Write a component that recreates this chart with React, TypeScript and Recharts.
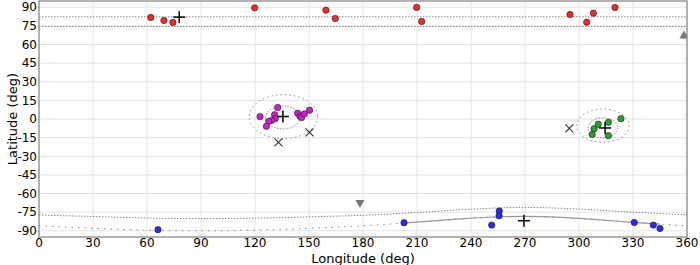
import React from 'react';
import {
  ComposedChart, Scatter, Line, XAxis, YAxis, CartesianGrid, ReferenceArea, ReferenceLine,
} from 'recharts';

// site positions (longitude, latitude in degrees)
const redSites = [
  { lon: 62.1, lat: 81.7 }, { lon: 69.4, lat: 79.3 }, { lon: 74.4, lat: 77.7 },
  { lon: 119.8, lat: 89.5 }, { lon: 159.4, lat: 87.6 }, { lon: 164.6, lat: 80.9 },
  { lon: 209.8, lat: 89.8 }, { lon: 212.6, lat: 78.5 }, { lon: 295.0, lat: 84.1 },
  { lon: 304.3, lat: 77.9 }, { lon: 308.0, lat: 85.2 }, { lon: 320.0, lat: 89.8 },
];
const magentaSites = [
  { lon: 122.8, lat: 1.9 }, { lon: 132.6, lat: 9.2 }, { lon: 130.9, lat: 3.4 },
  { lon: 131.3, lat: 0.4 }, { lon: 129.3, lat: -1.1 }, { lon: 127.6, lat: -1.9 },
  { lon: 126.3, lat: -5.9 }, { lon: 143.7, lat: 4.6 }, { lon: 145.0, lat: 2.2 },
  { lon: 145.9, lat: 1.2 }, { lon: 147.4, lat: 4.1 }, { lon: 150.3, lat: 7.1 },
];
const greenSites = [
  { lon: 323.3, lat: 0.3 }, { lon: 316.3, lat: -2.7 }, { lon: 310.7, lat: -4.2 },
  { lon: 308.4, lat: -7.8 }, { lon: 307.3, lat: -12.4 }, { lon: 316.3, lat: -13.4 },
];
const blueSites = [
  { lon: 66.1, lat: -89.1 }, { lon: 202.8, lat: -83.5 }, { lon: 251.5, lat: -85.4 },
  { lon: 255.7, lat: -74.1 }, { lon: 255.6, lat: -77.9 }, { lon: 330.7, lat: -83.3 },
  { lon: 341.3, lat: -85.4 }, { lon: 345.0, lat: -88.1 },
];

// mean directions (+), other estimates (x), triangles
const means = [
  { lon: 77.9, lat: 82.0 }, { lon: 135.5, lat: 2.0 }, { lon: 314.5, lat: -7.2 }, { lon: 269.4, lat: -81.9 },
];
const crosses = [
  { lon: 133.0, lat: -18.8 }, { lon: 150.3, lat: -10.8 }, { lon: 294.6, lat: -7.5 },
];
const upTriangles = [{ lon: 358.3, lat: 68.1 }];
const downTriangles = [{ lon: 178.3, lat: -68.4 }];

// confidence ellipses: bounding box [lonMin, lonMax, latMin, latMax]
const ellipsesOuter = [
  { lon1: 116.8, lon2: 154.8, lat1: -15.8, lat2: 19.6 },
  { lon1: 298.7, lon2: 327.8, lat1: -18.8, lat2: 8.0 },
];
const ellipsesInner = [
  { lon1: 126.0, lon2: 145.0, lat1: -8.0, lat2: 10.5 },
  { lon1: 305.2, lon2: 321.5, lat1: -15.3, lat2: 1.0 },
];

// circles around the poles
const northLines = [82.3, 74.5];
const southOuter = [
  { lon: 0, lat: -77.3 }, { lon: 30, lat: -78.5 }, { lon: 60, lat: -79.7 }, { lon: 90, lat: -80.2 },
  { lon: 120, lat: -79.8 }, { lon: 150, lat: -78.8 }, { lon: 180, lat: -77.5 }, { lon: 210, lat: -75.3 },
  { lon: 240, lat: -72.6 }, { lon: 270, lat: -71.2 }, { lon: 300, lat: -72.5 }, { lon: 330, lat: -75.0 },
  { lon: 360, lat: -77.2 },
];
const southInner = [
  { lon: 0, lat: -86.0 }, { lon: 30, lat: -88.0 }, { lon: 60, lat: -89.5 }, { lon: 90, lat: -90.0 },
  { lon: 120, lat: -89.5 }, { lon: 150, lat: -88.0 }, { lon: 180, lat: -86.0 }, { lon: 210, lat: -83.0 },
  { lon: 240, lat: -80.0 }, { lon: 270, lat: -78.4 }, { lon: 300, lat: -80.0 }, { lon: 330, lat: -83.2 },
  { lon: 360, lat: -86.0 },
];
const southInnerSolid = [
  { lon: 202, lat: -83.8 }, { lon: 230, lat: -80.8 }, { lon: 256, lat: -78.7 }, { lon: 270, lat: -78.4 },
  { lon: 290, lat: -79.2 }, { lon: 310, lat: -81.0 }, { lon: 330, lat: -83.2 }, { lon: 345, lat: -84.6 },
];

const lonTicks = [0, 30, 60, 90, 120, 150, 180, 210, 240, 270, 300, 330, 360];
const latTicks = [-90, -75, -60, -45, -30, -15, 0, 15, 30, 45, 60, 75, 90];

const font = '"DejaVu Sans", sans-serif';

const Plus = (props: any) => {
  const { cx, cy } = props;
  return (
    <g stroke="#111" strokeWidth={1.6}>
      <line x1={cx - 6} y1={cy} x2={cx + 6} y2={cy} />
      <line x1={cx} y1={cy - 6} x2={cx} y2={cy + 6} />
    </g>
  );
};

const Cross = (props: any) => {
  const { cx, cy } = props;
  return (
    <g stroke="#333" strokeWidth={1.1}>
      <line x1={cx - 4} y1={cy - 4} x2={cx + 4} y2={cy + 4} />
      <line x1={cx - 4} y1={cy + 4} x2={cx + 4} y2={cy - 4} />
    </g>
  );
};

const TriUp = (props: any) => {
  const { cx, cy } = props;
  return <polygon points={`${cx - 4.5},${cy + 4} ${cx + 4.5},${cy + 4} ${cx},${cy - 4}`} fill="#777" />;
};

const TriDown = (props: any) => {
  const { cx, cy } = props;
  return <polygon points={`${cx - 4.5},${cy - 4} ${cx + 4.5},${cy - 4} ${cx},${cy + 4}`} fill="#777" />;
};

const dot = (fill: string) => (props: any) => (
  <circle cx={props.cx} cy={props.cy} r={3.2} fill={fill} stroke="#222" strokeWidth={0.6} />
);

const ellipseShape = (dash: string) => (props: any) => {
  const { x, y, width, height } = props;
  return (
    <ellipse
      cx={x + width / 2} cy={y + height / 2} rx={Math.abs(width) / 2} ry={Math.abs(height) / 2}
      fill="none" stroke="#8a8a8a" strokeWidth={1} strokeDasharray={dash}
    />
  );
};

export default function App() {
  return (
    <div style={{ position: 'absolute', left: 0, top: 0 }}>
      <ComposedChart width={700} height={265} margin={{ top: 1, right: 13, bottom: 0, left: 0 }}>
        <CartesianGrid stroke="#e4e4e4" horizontalValues={latTicks} verticalValues={lonTicks} />
        <XAxis
          type="number" dataKey="lon" domain={[0, 360]} ticks={lonTicks} interval={0} allowDataOverflow
          height={28} tickSize={0} tickMargin={1} axisLine={false}
          tick={{ fill: '#000', fontSize: 12, fontFamily: font }}
          label={{ value: 'Longitude (deg)', position: 'insideBottom', offset: 2, fill: '#000', fontSize: 13, fontFamily: font }}
        />
        <YAxis
          type="number" dataKey="lat" domain={[-95, 95]} ticks={latTicks} interval={0} allowDataOverflow
          width={39} tickSize={0} tickMargin={2} axisLine={false}
          tick={{ fill: '#000', fontSize: 12, fontFamily: font }}
          label={{ value: 'Latitude (deg)', angle: -90, position: 'insideLeft', offset: 12, fill: '#000', fontSize: 13, fontFamily: font, style: { textAnchor: 'middle' } }}
        />
        <ReferenceArea x1={0} x2={360} y1={-95} y2={95} fill="none" stroke="#9a9a9a" strokeWidth={1.5} />

        {northLines.map((v) => (
          <ReferenceLine key={v} y={v} stroke="#8a8a8a" strokeDasharray="1.5 1.5" />
        ))}
        {ellipsesOuter.map((e, i) => (
          <ReferenceArea key={'o' + i} x1={e.lon1} x2={e.lon2} y1={e.lat1} y2={e.lat2} shape={ellipseShape('1.5 3')} />
        ))}
        {ellipsesInner.map((e, i) => (
          <ReferenceArea key={'i' + i} x1={e.lon1} x2={e.lon2} y1={e.lat1} y2={e.lat2} shape={ellipseShape('1.5 1.5')} />
        ))}

        <Line data={southOuter} dataKey="lat" type="monotone" stroke="#8a8a8a" strokeWidth={1} strokeDasharray="1.5 1.5" dot={false} isAnimationActive={false} />
        <Line data={southInner} dataKey="lat" type="monotone" stroke="#8a8a8a" strokeWidth={1} strokeDasharray="1.5 5" dot={false} isAnimationActive={false} />
        <Line data={southInnerSolid} dataKey="lat" type="monotone" stroke="#9a9a9a" strokeWidth={1.2} dot={false} isAnimationActive={false} />

        <Scatter data={redSites} dataKey="lat" shape={dot('#ee2a2a')} isAnimationActive={false} />
        <Scatter data={magentaSites} dataKey="lat" shape={dot('#cc1fcc')} isAnimationActive={false} />
        <Scatter data={greenSites} dataKey="lat" shape={dot('#2e9e2e')} isAnimationActive={false} />
        <Scatter data={blueSites} dataKey="lat" shape={dot('#2a2af0')} isAnimationActive={false} />
        <Scatter data={means} dataKey="lat" shape={Plus} isAnimationActive={false} />
        <Scatter data={crosses} dataKey="lat" shape={Cross} isAnimationActive={false} />
        <Scatter data={upTriangles} dataKey="lat" shape={TriUp} isAnimationActive={false} />
        <Scatter data={downTriangles} dataKey="lat" shape={TriDown} isAnimationActive={false} />
      </ComposedChart>
    </div>
  );
}
